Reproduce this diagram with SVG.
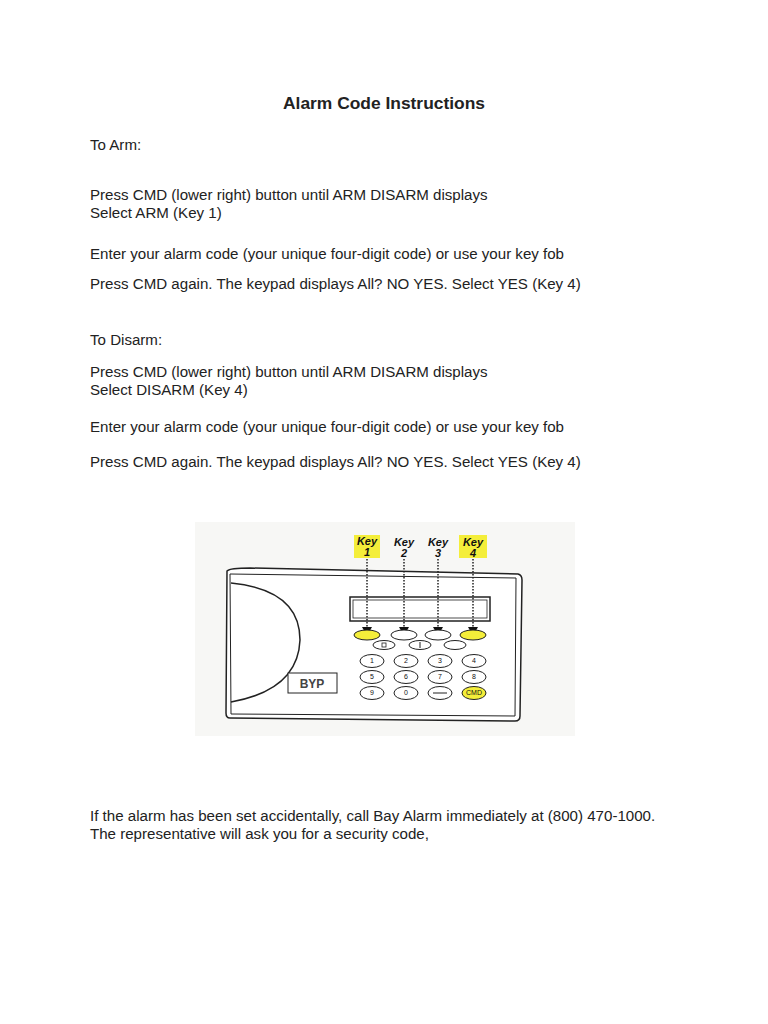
<svg xmlns="http://www.w3.org/2000/svg" width="768" height="1024" viewBox="0 0 768 1024">
<style>
.t{font-family:"Liberation Sans",Arial,sans-serif;font-size:15.1px;fill:#222}
.h{font-family:"Liberation Sans",Arial,sans-serif;font-size:17.4px;font-weight:bold;fill:#222}
.k{font-family:"Liberation Sans",Arial,sans-serif;font-size:11px;font-weight:bold;font-style:italic;fill:#111;text-anchor:middle}
.n{font-family:"Liberation Sans",Arial,sans-serif;font-size:7px;fill:#111;text-anchor:middle}
.o{fill:#fff;stroke:#222;stroke-width:1}
.y{fill:#f4ee3a;stroke:#222;stroke-width:1}
.d{stroke:#222;stroke-width:1.5;stroke-dasharray:1.5 1.5;fill:none}
</style>
<rect width="768" height="1024" fill="#fff"/>
<text class="h" x="384" y="109" text-anchor="middle">Alarm Code Instructions</text>
<text class="t" x="90" y="150">To Arm:</text>
<text class="t" x="90" y="200">Press CMD (lower right) button until ARM DISARM displays</text>
<text class="t" x="90" y="218">Select ARM (Key 1)</text>
<text class="t" x="90" y="259">Enter your alarm code (your unique four-digit code) or use your key fob</text>
<text class="t" x="90" y="289">Press CMD again. The keypad displays All? NO YES. Select YES (Key 4)</text>
<text class="t" x="90" y="345">To Disarm:</text>
<text class="t" x="90" y="377">Press CMD (lower right) button until ARM DISARM displays</text>
<text class="t" x="90" y="395">Select DISARM (Key 4)</text>
<text class="t" x="90" y="432">Enter your alarm code (your unique four-digit code) or use your key fob</text>
<text class="t" x="90" y="467">Press CMD again. The keypad displays All? NO YES. Select YES (Key 4)</text>
<text class="t" x="90" y="821">If the alarm has been set accidentally, call Bay Alarm immediately at (800) 470-1000.</text>
<text class="t" x="90" y="839">The representative will ask you for a security code,</text>
<g id="keypad">
<rect x="195" y="522" width="380" height="214" fill="#f7f7f5"/>
<path d="M227,571 Q230,568 250,568 L518,574 Q522,575 522,580 L520,716 Q520,721 515,721 L230,718 Q226,718 226,713 Z" fill="#fff" stroke="#222" stroke-width="1.5"/>
<path d="M230,574 L516,578 L515,716 L231,714 Z" fill="none" stroke="#222" stroke-width="1"/>
<path d="M231,583 Q300,590 300,640 Q298,690 231,702" fill="none" stroke="#222" stroke-width="1.5"/>
<rect x="350" y="597" width="140" height="24" fill="#fff" stroke="#222" stroke-width="1.5"/>
<rect x="353" y="600" width="134" height="18" fill="none" stroke="#222" stroke-width="0.8"/>
<rect x="288" y="673" width="49" height="20" fill="#fff" stroke="#222"/>
<text x="312" y="688" font-family="Liberation Sans,sans-serif" font-size="12" font-weight="bold" fill="#444" text-anchor="middle">BYP</text>
</g>
<g id="labels">
<rect x="354" y="535" width="26" height="23" fill="#f4ee3a"/>
<rect x="459" y="535" width="28" height="23" fill="#f4ee3a"/>
<text class="k" x="367" y="545">Key</text><text class="k" x="367" y="556">1</text>
<text class="k" x="404" y="546">Key</text><text class="k" x="404" y="557">2</text>
<text class="k" x="438" y="546">Key</text><text class="k" x="438" y="557">3</text>
<text class="k" x="473" y="546">Key</text><text class="k" x="473" y="557">4</text>
</g>
<g id="connectors">
<line class="d" x1="367" y1="559" x2="367" y2="628"/><path d="M362,627 L372,627 L367,636 Z" fill="#111"/>
<line class="d" x1="404" y1="559" x2="404" y2="628"/><path d="M399,627 L409,627 L404,636 Z" fill="#111"/>
<line class="d" x1="438" y1="559" x2="438" y2="628"/><path d="M433,627 L443,627 L438,636 Z" fill="#111"/>
<line class="d" x1="473" y1="559" x2="473" y2="628"/><path d="M468,627 L478,627 L473,636 Z" fill="#111"/>
</g>
<g id="keys">
<ellipse class="y" cx="367" cy="635" rx="13" ry="5"/>
<ellipse class="o" cx="404" cy="635" rx="13" ry="5"/>
<ellipse class="o" cx="438" cy="635" rx="13" ry="5"/>
<ellipse class="y" cx="473" cy="635" rx="13" ry="5"/>
<ellipse class="o" cx="384" cy="645" rx="11" ry="4.5"/><rect x="382" y="643" width="4" height="4" fill="none" stroke="#222" stroke-width="0.8"/>
<ellipse class="o" cx="420" cy="645" rx="11" ry="4.5"/><line x1="420" y1="642" x2="420" y2="648" stroke="#222"/>
<ellipse class="o" cx="455" cy="645" rx="11" ry="4.5"/>
<ellipse class="o" cx="372" cy="661" rx="12" ry="6.5"/><text class="n" x="372" y="663">1</text>
<ellipse class="o" cx="406" cy="661" rx="12" ry="6.5"/><text class="n" x="406" y="663">2</text>
<ellipse class="o" cx="440" cy="661" rx="12" ry="6.5"/><text class="n" x="440" y="663">3</text>
<ellipse class="o" cx="474" cy="661" rx="12" ry="6.5"/><text class="n" x="474" y="663">4</text>
<ellipse class="o" cx="372" cy="677" rx="12" ry="6.5"/><text class="n" x="372" y="679">5</text>
<ellipse class="o" cx="406" cy="677" rx="12" ry="6.5"/><text class="n" x="406" y="679">6</text>
<ellipse class="o" cx="440" cy="677" rx="12" ry="6.5"/><text class="n" x="440" y="679">7</text>
<ellipse class="o" cx="474" cy="677" rx="12" ry="6.5"/><text class="n" x="474" y="679">8</text>
<ellipse class="o" cx="372" cy="693" rx="12" ry="6.5"/><text class="n" x="372" y="695">9</text>
<ellipse class="o" cx="406" cy="693" rx="12" ry="6.5"/><text class="n" x="406" y="695">0</text>
<ellipse class="o" cx="440" cy="693" rx="12" ry="6.5"/><line x1="433" y1="693" x2="447" y2="693" stroke="#222"/>
<ellipse class="y" cx="474" cy="693" rx="12" ry="6.5"/><text class="n" x="474" y="695">CMD</text>
</g>
</svg>
